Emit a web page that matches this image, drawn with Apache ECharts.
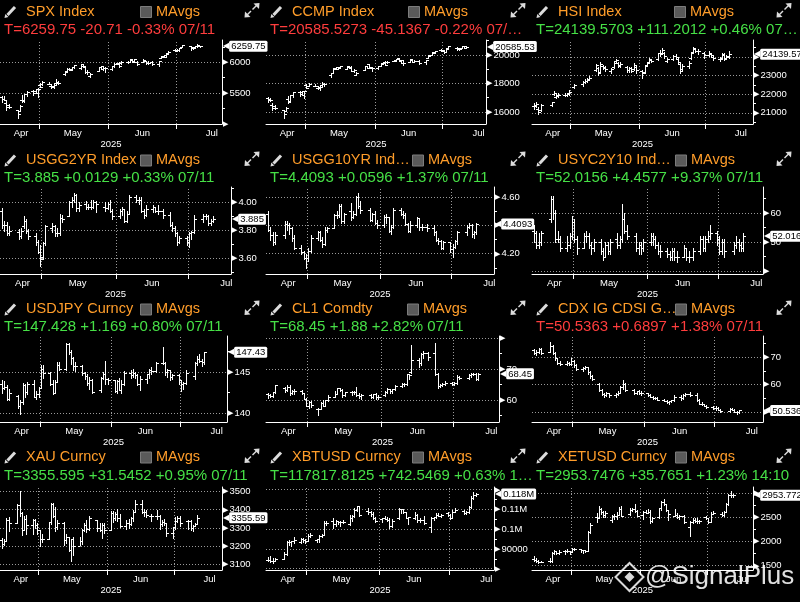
<!DOCTYPE html>
<html><head><meta charset="utf-8">
<script src="https://cdn.jsdelivr.net/npm/echarts/dist/echarts.min.js"></script>
<style>html,body{margin:0;padding:0;background:#000;}#c{width:800px;height:602px;}</style>
</head><body><div id="c"></div>
<script>
// ---------------- DATA ----------------
const usDates = ['2025-04-14','2025-04-15','2025-04-16','2025-04-17','2025-04-21','2025-04-22','2025-04-23','2025-04-24','2025-04-25','2025-04-28','2025-04-29','2025-04-30',
'2025-05-01','2025-05-02','2025-05-05','2025-05-06','2025-05-07','2025-05-08','2025-05-09','2025-05-12','2025-05-13','2025-05-14','2025-05-15','2025-05-16','2025-05-19','2025-05-20','2025-05-21','2025-05-22','2025-05-23','2025-05-27','2025-05-28','2025-05-29','2025-05-30',
'2025-06-02','2025-06-03','2025-06-04','2025-06-05','2025-06-06','2025-06-09','2025-06-10','2025-06-11','2025-06-12','2025-06-13','2025-06-16','2025-06-17','2025-06-18','2025-06-20','2025-06-23','2025-06-24','2025-06-25','2025-06-26','2025-06-27','2025-06-30',
'2025-07-01','2025-07-02','2025-07-03','2025-07-07','2025-07-08','2025-07-09','2025-07-10','2025-07-11'];
const hkDates = ['2025-04-14','2025-04-15','2025-04-16','2025-04-17','2025-04-22','2025-04-23','2025-04-24','2025-04-25','2025-04-28','2025-04-29','2025-04-30',
'2025-05-02','2025-05-06','2025-05-07','2025-05-08','2025-05-09','2025-05-12','2025-05-13','2025-05-14','2025-05-15','2025-05-16','2025-05-19','2025-05-20','2025-05-21','2025-05-22','2025-05-23','2025-05-26','2025-05-27','2025-05-28','2025-05-29','2025-05-30',
'2025-06-02','2025-06-03','2025-06-04','2025-06-05','2025-06-06','2025-06-09','2025-06-10','2025-06-11','2025-06-12','2025-06-13','2025-06-16','2025-06-17','2025-06-18','2025-06-19','2025-06-20','2025-06-23','2025-06-24','2025-06-25','2025-06-26','2025-06-27','2025-06-30',
'2025-07-02','2025-07-03','2025-07-04','2025-07-07','2025-07-08','2025-07-09','2025-07-10','2025-07-11'];
const cryptoDates = usDates.concat(['2025-07-12']);

const monthNames = ['Jan','Feb','Mar','Apr','May','Jun','Jul','Aug','Sep','Oct','Nov','Dec'];
const monthStarts = ['2025-05-01','2025-06-01','2025-07-01'];
const monthLabelDays = ['2025-04-23','2025-05-16','2025-06-16','2025-07-17'];

// OHLC bars [open, high, low, close]
const spx = [[5441,5460,5359,5406],[5412,5450,5386,5396],[5335,5367,5220,5276],[5305,5328,5255,5283],[5232,5233,5101,5158],[5207,5309,5207,5287],[5395,5469,5356,5376],[5381,5484,5361,5484],[5490,5528,5455,5525],[5529,5554,5468,5528],[5508,5571,5506,5561],[5499,5581,5433,5569],
[5626,5659,5597,5604],[5645,5700,5639,5686],[5655,5683,5640,5650],[5608,5641,5590,5607],[5619,5653,5587,5631],[5663,5721,5633,5664],[5679,5691,5644,5660],[5807,5845,5786,5844],[5854,5906,5853,5887],[5893,5906,5868,5892],[5869,5925,5867,5917],[5929,5958,5908,5958],[5902,5968,5895,5964],[5944,5954,5915,5940],[5921,5939,5830,5845],[5842,5878,5817,5842],[5781,5829,5767,5803],[5854,5924,5854,5922],[5925,5930,5886,5889],[5939,5944,5871,5912],[5903,5922,5843,5912],
[5897,5937,5879,5936],[5939,5981,5929,5970],[5978,5991,5967,5971],[5986,5999,5921,5939],[5987,6016,5978,6000],[6004,6021,5994,6006],[6010,6044,6001,6039],[6050,6059,6003,6022],[6010,6045,6003,6045],[6001,6027,5963,5977],[6005,6050,6005,6033],[6013,6023,5974,5983],[5987,6019,5969,5981],[5999,6018,5952,5967],[5970,6028,5943,6025],[6062,6101,6062,6092],[6104,6108,6080,6092],[6112,6146,6106,6141],[6151,6187,6132,6173],[6194,6215,6180,6205],
[6187,6211,6177,6198],[6192,6227,6189,6227],[6240,6284,6240,6279],[6259,6263,6202,6230],[6239,6242,6217,6226],[6240,6269,6237,6263],[6266,6290,6253,6280],[6256,6270,6243,6260]];

const ccmp = [[17010,17080,16700,16832],[16900,16980,16760,16823],[16500,16600,16100,16307],[16400,16500,16200,16286],[16100,16130,15600,15871],[16050,16350,16030,16300],[16900,17140,16620,16708],[16740,17170,16700,17166],[17170,17390,17060,17383],[17400,17470,17130,17366],[17280,17490,17260,17461],[17180,17460,16990,17446],
[17860,17960,17680,17711],[17850,18030,17820,17978],[17850,17930,17790,17844],[17670,17790,17610,17690],[17720,17820,17550,17738],[17900,18110,17800,17928],[17980,18020,17840,17929],[18570,18710,18450,18708],[18760,19060,18750,19010],[19050,19180,19010,19146],[19020,19140,18990,19112],[19130,19220,19060,19211],[19020,19230,18990,19215],[19150,19200,19060,19143],[19090,19190,18850,18872],[18860,19040,18830,18926],[18620,18810,18600,18737],[18950,19200,18940,19199],[19230,19240,19070,19101],[19340,19360,19050,19175],[19080,19150,18870,19114],
[19050,19250,19000,19243],[19250,19420,19210,19399],[19430,19500,19410,19460],[19480,19550,19260,19298],[19490,19600,19440,19530],[19570,19650,19540,19591],[19620,19740,19560,19715],[19760,19800,19580,19615],[19560,19670,19530,19662],[19430,19570,19310,19407],[19530,19740,19520,19701],[19620,19650,19480,19521],[19520,19660,19480,19546],[19600,19630,19380,19447],[19470,19640,19360,19631],[19800,19950,19790,19913],[19990,20030,19900,19973],[20030,20190,20010,20167],[20240,20290,20150,20273],[20330,20400,20260,20369],
[20310,20340,20130,20202],[20200,20400,20190,20394],[20470,20640,20460,20601],[20520,20540,20330,20412],[20460,20490,20380,20419],[20510,20660,20490,20611],[20610,20660,20540,20631],[20520,20620,20500,20586]];

const hsi = [[21370,21550,21200,21417],[21380,21560,21300,21466],[21200,21300,20950,21057],[21130,21450,21100,21395],[21400,21600,21350,21562],[22000,22180,21950,22073],[21850,22000,21800,21909],[21950,22050,21850,21980],[21950,22080,21880,21972],[21950,22080,21900,22008],[22050,22200,21950,22119],
[22400,22550,22350,22504],[22550,22700,22450,22662],[22650,22800,22600,22691],[22700,22880,22650,22775],[22800,22950,22750,22868],[23300,23600,23250,23549],[23400,23450,23050,23108],[23200,23700,23150,23640],[23500,23580,23350,23453],[23400,23500,23250,23345],[23250,23400,23150,23332],[23450,23750,23400,23681],[23750,23900,23650,23827],[23650,23700,23450,23544],[23500,23700,23450,23601],[23450,23500,23200,23282],[23300,23450,23200,23381],[23400,23450,23200,23258],[23350,23650,23300,23573],[23450,23500,23150,23290],
[23250,23300,22850,23158],[23200,23550,23150,23512],[23550,23700,23500,23655],[23700,23950,23650,23907],[23850,23900,23700,23792],[23900,24200,23850,24181],[24200,24350,24050,24162],[24200,24450,24150,24367],[24200,24250,23950,24036],[23800,23950,23700,23892],[23900,24100,23850,24061],[24050,24150,23900,23980],[23900,23950,23650,23711],[23600,23650,23150,23238],[23350,23600,23300,23530],[23500,23750,23400,23689],[23950,24250,23900,24177],[24250,24500,24200,24474],[24400,24450,24250,24325],[24300,24400,24150,24284],[24200,24250,23950,24072],
[24100,24300,24050,24221],[24150,24200,24000,24070],[24000,24050,23850,23916],[23900,24000,23800,23887],[23950,24200,23900,24148],[24100,24200,23850,23892],[23950,24100,23900,24028],[24000,24300,23950,24140]];

const us2y = [[3.94,3.96,3.82,3.84],[3.84,3.87,3.80,3.84],[3.84,3.86,3.77,3.78],[3.78,3.83,3.77,3.80],[3.79,3.81,3.74,3.76],[3.76,3.82,3.75,3.80],[3.83,3.90,3.82,3.87],[3.87,3.88,3.78,3.80],[3.80,3.81,3.74,3.76],[3.76,3.78,3.70,3.72],[3.72,3.73,3.64,3.65],[3.65,3.70,3.55,3.60],
[3.61,3.72,3.60,3.71],[3.71,3.84,3.70,3.83],[3.82,3.85,3.79,3.83],[3.83,3.84,3.76,3.78],[3.78,3.82,3.76,3.78],[3.78,3.92,3.77,3.89],[3.89,3.91,3.86,3.88],[3.90,4.01,3.90,4.00],[4.00,4.04,3.97,4.02],[4.02,4.07,4.00,4.05],[4.05,4.06,3.94,3.96],[3.96,4.00,3.94,3.98],[3.99,4.01,3.95,3.97],[3.97,3.99,3.95,3.97],[3.97,4.02,3.95,3.97],[3.97,4.02,3.96,4.00],[4.00,4.01,3.93,3.99],[3.97,4.00,3.94,3.96],[3.96,4.00,3.95,3.99],[3.99,4.02,3.93,3.94],[3.94,3.95,3.88,3.90],
[3.90,3.95,3.89,3.94],[3.94,3.97,3.91,3.95],[3.95,3.95,3.86,3.87],[3.87,3.94,3.86,3.92],[3.92,4.05,3.92,4.04],[4.04,4.05,4.00,4.02],[4.02,4.04,3.99,4.02],[4.02,4.04,3.93,3.94],[3.94,3.95,3.89,3.91],[3.91,3.98,3.90,3.95],[3.95,3.98,3.93,3.97],[3.97,3.97,3.93,3.94],[3.94,3.98,3.92,3.94],[3.94,3.95,3.89,3.91],[3.91,3.93,3.83,3.84],[3.84,3.86,3.80,3.82],[3.82,3.83,3.76,3.78],[3.78,3.79,3.70,3.72],[3.72,3.76,3.71,3.75],[3.75,3.76,3.70,3.72],
[3.72,3.79,3.68,3.78],[3.78,3.80,3.74,3.79],[3.79,3.91,3.78,3.88],[3.88,3.92,3.86,3.90],[3.90,3.92,3.88,3.90],[3.90,3.91,3.84,3.85],[3.85,3.88,3.84,3.87],[3.87,3.90,3.86,3.885]];

const us10y = [[4.48,4.50,4.36,4.37],[4.37,4.39,4.30,4.33],[4.33,4.35,4.26,4.28],[4.28,4.35,4.27,4.33],[4.33,4.43,4.31,4.41],[4.41,4.43,4.37,4.40],[4.40,4.42,4.34,4.38],[4.38,4.39,4.29,4.31],[4.31,4.33,4.23,4.24],[4.24,4.26,4.20,4.21],[4.21,4.22,4.16,4.17],[4.17,4.20,4.10,4.17],
[4.17,4.24,4.15,4.22],[4.22,4.33,4.21,4.31],[4.31,4.36,4.30,4.35],[4.35,4.36,4.29,4.30],[4.30,4.32,4.25,4.27],[4.27,4.39,4.26,4.37],[4.37,4.39,4.35,4.38],[4.38,4.48,4.38,4.47],[4.47,4.50,4.45,4.47],[4.47,4.55,4.46,4.54],[4.54,4.55,4.42,4.43],[4.43,4.49,4.42,4.48],[4.50,4.56,4.44,4.46],[4.46,4.50,4.45,4.48],[4.48,4.61,4.47,4.60],[4.60,4.63,4.52,4.54],[4.54,4.57,4.49,4.51],[4.51,4.52,4.43,4.44],[4.44,4.49,4.43,4.48],[4.48,4.50,4.41,4.42],[4.42,4.44,4.38,4.40],
[4.40,4.47,4.39,4.46],[4.46,4.48,4.42,4.46],[4.46,4.46,4.35,4.36],[4.36,4.40,4.34,4.39],[4.39,4.52,4.38,4.51],[4.51,4.52,4.47,4.48],[4.48,4.50,4.45,4.47],[4.47,4.49,4.40,4.41],[4.41,4.42,4.35,4.36],[4.36,4.43,4.35,4.40],[4.40,4.46,4.39,4.45],[4.45,4.45,4.37,4.39],[4.39,4.41,4.37,4.39],[4.39,4.41,4.36,4.38],[4.38,4.40,4.33,4.35],[4.35,4.36,4.29,4.30],[4.30,4.31,4.27,4.29],[4.29,4.30,4.23,4.24],[4.24,4.29,4.23,4.28],[4.28,4.28,4.21,4.23],
[4.23,4.27,4.18,4.25],[4.25,4.30,4.24,4.29],[4.29,4.36,4.27,4.35],[4.35,4.40,4.33,4.39],[4.39,4.42,4.38,4.40],[4.40,4.41,4.32,4.34],[4.34,4.36,4.31,4.35],[4.35,4.42,4.34,4.4093]];

const us2s10s = [[54,56,50,53],[53,54,48,49],[49,53,48,50],[50,54,49,53],[58,66,57,65],[65,66,58,60],[60,61,50,51],[51,54,50,51],[51,52,47,48],[48,52,47,49],[49,53,48,52],[52,59,51,57],
[57,58,50,51],[51,52,46,48],[48,53,48,52],[52,54,50,52],[52,53,48,49],[49,50,46,48],[48,51,47,50],[50,51,46,47],[47,48,44,45],[45,50,45,49],[49,50,46,47],[47,51,46,50],[51,53,48,49],[49,52,48,51],[51,63,50,58],[58,60,53,54],[54,56,51,52],[52,53,47,48],[48,50,46,49],[49,50,46,48],[48,51,47,50],
[50,53,49,52],[52,53,49,51],[51,52,48,49],[49,50,46,47],[47,49,45,47],[47,48,45,46],[46,47,44,45],[45,48,44,47],[47,48,44,45],[45,47,43,45],[45,49,45,48],[48,48,44,45],[45,47,43,45],[45,48,44,47],[47,52,46,51],[51,52,47,48],[48,52,47,51],[51,54,50,52],[52,56,51,53],[53,54,49,51],
[51,52,46,47],[47,51,46,50],[50,51,45,47],[47,50,46,49],[49,52,48,50],[50,51,47,49],[49,50,47,48],[48,53,47,52.02]];

const usdjpy = [[143.5,144.0,142.5,143.1],[143.1,143.9,142.9,143.2],[143.2,143.4,141.6,141.7],[141.7,142.9,141.6,142.4],[142.1,142.2,140.6,140.8],[140.8,141.6,139.9,141.3],[141.3,143.7,141.1,143.4],[143.4,143.6,142.0,142.6],[142.6,143.8,142.3,143.6],[143.6,144.0,141.9,142.0],[142.0,142.7,141.7,142.3],[142.3,143.2,141.9,143.1],
[143.1,145.9,143.0,145.4],[145.4,145.9,144.3,144.9],[144.9,145.0,143.4,143.6],[143.6,144.0,142.3,142.5],[142.5,144.0,142.4,143.8],[143.8,146.2,143.8,145.9],[145.9,146.2,145.2,145.4],[145.4,148.6,145.3,148.4],[148.4,148.6,147.2,147.5],[147.5,147.7,146.0,146.7],[146.7,146.8,145.2,145.7],[145.7,146.2,145.1,145.7],[145.7,145.8,144.6,144.9],[144.9,145.0,144.2,144.5],[144.5,144.7,143.4,143.7],[143.7,144.4,142.9,144.0],[144.0,144.1,142.4,142.6],[142.8,144.4,142.6,144.3],[144.3,145.0,144.1,144.8],[144.8,146.3,143.6,144.1],[144.1,144.3,143.5,144.0],
[144.0,144.0,142.6,142.7],[142.7,144.0,142.4,143.9],[143.9,144.3,142.8,142.8],[142.8,144.0,142.4,143.5],[143.5,145.1,143.4,144.9],[144.9,145.2,144.3,144.6],[144.6,145.4,144.4,144.9],[144.9,145.0,144.3,144.6],[144.6,144.8,143.4,143.5],[143.5,144.5,142.8,144.1],[144.1,144.8,143.7,144.7],[144.7,145.4,144.3,145.3],[145.3,145.6,144.7,145.1],[145.1,146.2,145.0,146.1],[146.1,148.0,146.0,146.1],[146.1,146.2,144.6,145.0],[145.0,145.4,144.4,145.2],[145.2,145.3,144.0,144.4],[144.4,144.8,144.2,144.6],[144.6,144.8,143.6,144.0],
[144.0,144.0,142.7,143.5],[143.5,143.8,142.9,143.7],[143.7,145.2,143.5,144.9],[144.5,146.2,144.2,146.1],[146.1,146.9,145.8,146.6],[146.6,147.2,146.2,146.3],[146.3,146.6,145.7,146.2],[146.2,147.5,146.0,147.43]];

const cl1 = [[61.8,62.2,60.6,61.5],[61.5,62.0,60.9,61.3],[61.3,62.7,60.8,62.5],[62.5,64.9,62.4,64.7],[64.0,64.2,62.5,63.1],[63.1,64.9,62.9,64.3],[64.3,64.9,61.7,62.3],[62.3,63.2,61.8,62.8],[62.8,63.4,61.8,63.0],[63.0,63.3,61.9,62.1],[62.1,62.3,60.2,60.4],[60.4,60.6,57.9,58.2],
[58.2,59.6,57.5,59.2],[59.2,59.8,57.8,58.3],[57.1,57.5,55.3,57.1],[57.1,59.4,57.0,59.1],[59.1,60.0,57.9,58.1],[58.1,60.1,58.0,59.9],[59.9,61.5,59.8,61.0],[61.0,62.8,61.0,62.0],[62.0,63.9,61.8,63.7],[63.7,64.0,62.8,63.2],[63.2,63.4,60.8,61.6],[61.6,62.6,61.3,62.5],[62.5,62.9,61.5,62.7],[62.7,63.0,61.9,62.6],[62.6,64.2,61.3,61.6],[61.6,62.2,60.6,61.2],[61.2,61.8,60.3,61.5],[61.5,62.0,60.6,60.9],[60.9,62.0,60.5,61.8],[61.8,62.3,60.3,60.9],[60.9,61.5,60.3,60.8],
[61.5,63.0,61.3,62.5],[62.5,63.9,62.2,63.4],[63.4,63.5,62.3,62.9],[62.9,63.5,62.4,63.4],[63.4,64.8,63.3,64.6],[64.6,65.4,64.1,65.3],[65.3,65.5,64.5,65.0],[65.0,68.4,64.8,68.2],[68.2,68.3,66.8,68.0],[69.0,77.6,68.7,73.0],[73.0,73.5,70.5,71.8],[71.8,75.0,71.2,74.8],[74.8,75.7,73.6,75.1],[75.1,75.3,72.9,73.8],[75.0,78.4,68.0,68.5],[68.5,68.6,64.0,64.4],[64.4,65.2,64.1,64.9],[64.9,65.6,64.4,65.2],[65.2,66.0,64.8,65.5],[65.5,65.7,64.7,65.1],
[65.1,65.9,64.9,65.5],[65.5,67.9,65.3,67.5],[67.5,67.8,66.6,67.0],[67.0,68.2,66.9,67.9],[67.9,68.6,67.4,68.3],[68.3,68.8,68.0,68.4],[68.4,68.6,66.3,66.6],[66.6,68.6,66.4,68.45]];

const cdxig = [[72.5,73.0,71.0,71.5],[71.5,72.5,70.8,72.0],[72.0,73.5,71.5,73.0],[73.0,73.2,71.0,71.5],[72.0,75.5,71.8,74.0],[74.0,74.5,71.0,71.5],[71.5,71.8,69.0,69.5],[69.5,69.8,67.5,68.0],[68.0,68.5,67.0,67.5],[67.5,68.5,67.0,68.0],[68.0,68.2,67.0,67.5],[67.5,69.5,67.2,68.5],
[68.5,69.0,66.5,67.0],[67.0,67.5,65.2,65.5],[65.5,66.5,65.0,66.0],[66.0,66.8,65.5,66.2],[66.2,66.5,64.0,64.5],[64.5,64.8,62.5,63.0],[63.0,63.5,61.5,62.0],[60.0,60.5,57.5,58.0],[58.0,58.5,56.0,56.5],[56.5,57.0,55.5,56.0],[56.0,57.2,55.8,56.8],[56.8,57.0,55.5,56.0],[56.0,56.8,55.6,56.5],[56.5,57.5,56.2,57.0],[57.0,59.5,56.8,59.0],[59.0,61.5,58.5,60.0],[60.0,60.5,57.5,58.0],[58.0,58.2,56.5,57.0],[57.0,57.8,56.5,57.5],[57.5,58.0,56.6,57.0],[57.0,57.5,56.3,56.8],
[56.8,57.0,55.8,56.2],[56.2,56.5,55.3,55.5],[55.5,55.8,54.8,55.0],[55.0,55.6,54.6,55.2],[55.2,55.4,54.2,54.5],[54.5,54.8,53.8,54.0],[54.0,54.2,53.2,53.5],[53.5,54.0,53.0,53.8],[53.8,54.5,53.5,54.2],[54.2,56.0,54.0,55.5],[55.5,56.0,54.5,55.0],[55.0,56.5,54.8,56.2],[56.2,57.0,55.8,56.5],[56.5,57.2,55.8,56.0],[56.0,57.0,54.0,54.5],[54.5,54.6,52.8,53.0],[53.0,53.5,52.5,52.8],[52.8,53.0,52.0,52.2],[52.2,52.5,51.5,51.8],[51.8,52.0,51.0,51.3],
[51.3,52.0,50.8,51.5],[51.5,51.8,50.6,50.8],[50.8,51.0,50.0,50.2],[50.2,51.4,50.0,51.2],[51.2,51.5,50.5,50.8],[50.8,51.0,49.8,50.0],[50.0,50.2,49.4,49.8],[49.8,50.8,49.6,50.54]];

const xau = [[3237,3245,3193,3211],[3211,3240,3205,3230],[3230,3357,3228,3343],[3343,3358,3284,3327],[3330,3430,3325,3425],[3425,3500,3367,3381],[3381,3386,3260,3288],[3288,3367,3287,3349],[3349,3371,3265,3319],[3319,3352,3268,3343],[3343,3348,3300,3317],[3317,3328,3268,3288],
[3288,3289,3202,3239],[3239,3269,3223,3241],[3241,3335,3240,3334],[3334,3438,3320,3431],[3431,3435,3362,3366],[3366,3414,3284,3306],[3306,3346,3297,3325],[3325,3332,3208,3236],[3236,3266,3217,3249],[3249,3252,3175,3180],[3180,3241,3121,3240],[3240,3252,3155,3204],[3204,3250,3205,3230],[3230,3295,3213,3290],[3290,3325,3283,3315],[3315,3345,3278,3294],[3294,3366,3287,3357],[3342,3344,3286,3301],[3301,3326,3285,3288],[3288,3330,3245,3318],[3318,3326,3271,3289],
[3289,3392,3288,3381],[3381,3393,3333,3353],[3353,3385,3343,3374],[3374,3403,3339,3353],[3353,3375,3307,3310],[3310,3344,3294,3326],[3326,3350,3302,3322],[3322,3360,3316,3355],[3355,3398,3340,3387],[3387,3451,3385,3433],[3433,3452,3380,3385],[3385,3403,3366,3389],[3389,3396,3362,3370],[3368,3375,3340,3368],[3368,3398,3348,3368],[3368,3370,3295,3323],[3323,3345,3312,3332],[3332,3350,3317,3327],[3327,3329,3255,3274],[3274,3308,3247,3303],
[3303,3358,3296,3338],[3338,3365,3333,3357],[3357,3365,3311,3326],[3337,3342,3296,3337],[3337,3345,3287,3302],[3302,3318,3283,3313],[3313,3330,3310,3324],[3324,3369,3322,3355.6]];

const xbt = [[84500,85800,83700,84600],[84600,86400,83600,83700],[83700,85500,83100,84000],[84000,85400,83800,84900],[85100,88500,85000,87500],[87500,93800,87100,93400],[93400,94700,91900,93700],[93700,94000,91700,93900],[93900,95800,92900,94700],[93700,95600,92900,95000],[95000,95500,93400,94300],[94300,95200,92900,94200],
[94200,97400,94100,96500],[96500,97900,96300,96900],[94300,95200,93500,94800],[94800,96900,93400,96800],[96800,97700,95800,97000],[97000,103900,96900,103200],[103200,104300,102300,102900],[104000,105800,100800,102800],[102800,104900,101500,104100],[104100,104400,102700,103500],[103500,104200,101400,103700],[103700,104500,103100,103500],[102600,107000,102000,105600],[105600,107300,104200,106800],[106800,110700,106100,109600],[109600,111900,109300,111700],[111700,111800,106800,107300],[109400,110700,107600,108900],[108900,109300,106700,107800],[107800,108900,105400,105600],[105600,106300,103700,103900],
[105200,105900,103700,105800],[105800,106800,105000,105400],[105400,106000,104200,104700],[104700,105900,100400,101500],[101500,105400,101100,104300],[105700,110500,105400,110200],[110200,110400,108300,110300],[110300,110400,108100,108700],[108700,108800,105700,105700],[105700,106200,102700,106100],[105500,108900,105400,107000],[107000,107800,103400,104600],[104600,105600,103600,104900],[104600,106500,102400,103300],[100900,106000,98500,105500],[105500,106300,104700,106000],[106000,108100,105800,107300],[107300,108000,106600,106900],[106900,107700,106100,107100],[108400,108800,106800,107100],
[107100,107500,105300,105700],[105700,109600,105600,108900],[108900,110500,108600,109600],[109200,109700,107500,108200],[108200,109200,107500,108900],[108900,111900,108400,111300],[111300,116800,110600,115900],[115900,118800,115300,117500],[117500,118200,116900,117818]];

const xet = [[1645,1690,1600,1622],[1622,1660,1580,1588],[1588,1615,1560,1577],[1577,1600,1570,1584],[1600,1660,1575,1587],[1587,1780,1580,1756],[1756,1830,1750,1795],[1795,1800,1740,1770],[1770,1815,1750,1786],[1799,1830,1745,1799],[1799,1840,1785,1798],[1798,1810,1740,1793],
[1793,1875,1790,1839],[1839,1870,1830,1841],[1840,1845,1790,1816],[1816,1830,1760,1814],[1814,1830,1780,1810],[1810,2210,1800,2206],[2206,2380,2170,2345],[2500,2580,2400,2495],[2495,2730,2480,2680],[2680,2700,2560,2609],[2609,2620,2500,2546],[2546,2640,2500,2599],[2440,2550,2400,2524],[2524,2570,2470,2525],[2525,2600,2460,2554],[2554,2720,2540,2663],[2663,2740,2520,2526],[2570,2700,2540,2661],[2661,2690,2620,2680],[2680,2780,2610,2632],[2632,2650,2520,2531],
[2540,2620,2470,2606],[2606,2660,2580,2589],[2589,2670,2580,2607],[2607,2650,2390,2419],[2419,2510,2400,2486],[2510,2700,2480,2683],[2683,2830,2660,2816],[2816,2880,2760,2770],[2770,2780,2620,2644],[2644,2660,2450,2578],[2530,2680,2520,2549],[2549,2580,2480,2509],[2509,2540,2460,2521],[2520,2550,2390,2408],[2290,2420,2120,2405],[2405,2480,2390,2449],[2449,2480,2400,2419],[2419,2480,2390,2418],[2418,2440,2390,2424],[2500,2520,2470,2486],
[2486,2490,2390,2404],[2404,2600,2400,2573],[2573,2640,2560,2589],[2570,2600,2520,2541],[2541,2630,2520,2612],[2612,2790,2600,2771],[2771,2990,2750,2955],[2955,3050,2920,2959],[2959,2975,2910,2953.77]];

// y-axis tick labels per panel
const spxTicks = [5000,5500,6000], ccmpTicks = [16000,18000,20000], hsiTicks = [21000,22000,23000,24000];
const us2yTicks = [3.6,3.8,4.0], us10yTicks = [4.2,4.4,4.6], us2s10sTicks = [40,50,60];
const usdjpyTicks = [140,145], cl1Ticks = [60,70,80], cdxTicks = [50,60,70];
const xauTicks = [3100,3200,3300,3400,3500], xbtTicks = [80000,90000,100000,110000,120000], xetTicks = [1500,2000,2500,3000];

// ---------------- LAYOUT ----------------
const FONT = '"Liberation Sans", Arial, sans-serif';
const ORANGE = '#ff9d2a', GREEN = '#46e046', RED = '#ff3d3d';
const COLX = [0, 266, 532];
const TITLE_Y = [11.5, 160, 309, 457];
const QUOTE_Y = [29.5, 178, 327, 475.5];
const GRID_TOP = [40, 187, 336, 487];
const GRID_H = [84, 87, 86, 83];
const fmtInt = v => String(v), fmt2 = v => v.toFixed(2);
const fmtM = v => v >= 100000 ? (v / 1e6) + 'M' : String(v);

const panels = [
 {title:'SPX Index', quote:'T=6259.75 -20.71 -0.33% 07/11', up:false, dates:usDates, ohlc:spx, min:5000, max:6360, ticks:spxTicks, bare:[5000], minor:[5250,5750,6250], fmt:fmtInt, last:6259.75, box:'6259.75', w:222, xEnd:98.5, sq:140},
 {title:'CCMP Index', quote:'T=20585.5273 -45.1367 -0.22% 07/\u2026', up:false, dates:usDates, ohlc:ccmp, min:15150, max:21050, ticks:ccmpTicks, bare:[], minor:[17000,19000,21000], fmt:fmtInt, last:20585.53, box:'20585.53', w:220, xEnd:97.3, sq:142},
 {title:'HSI Index', quote:'T=24139.5703 +111.2012 +0.46% 07\u2026', up:true, dates:hkDates, ohlc:hsi, min:20400, max:24900, ticks:hsiTicks, bare:[], minor:[20500,21500,22500,23500,24500], fmt:fmtInt, last:24139.57, box:'24139.57', w:221, xEnd:99.5, sq:142},
 {title:'USGG2YR Index', quote:'T=3.885 +0.0129 +0.33% 07/11', up:true, dates:usDates, ohlc:us2y, min:3.49, max:4.11, ticks:us2yTicks, bare:[], minor:[3.5,3.7,3.9,4.1], fmt:fmt2, last:3.885, box:'3.885', w:231, xEnd:96, sq:140},
 {title:'USGG10YR Ind\u2026', quote:'T=4.4093 +0.0596 +1.37% 07/11', up:true, dates:usDates, ohlc:us10y, min:4.057, max:4.671, ticks:us10yTicks, bare:[], minor:[4.1,4.3,4.5], fmt:fmt2, last:4.4093, box:'4.4093', w:228, xEnd:96, sq:146},
 {title:'USYC2Y10 Ind\u2026', quote:'T=52.0156 +4.4577 +9.37% 07/11', up:true, dates:usDates, ohlc:us2s10s, min:39, max:69, ticks:us2s10sTicks, bare:[40], minor:[45,55,65], fmt:fmtInt, last:52.016, box:'52.016', w:231, xEnd:96.8, sq:143},
 {title:'USDJPY Curncy', quote:'T=147.428 +1.169 +0.80% 07/11', up:true, dates:usDates, ohlc:usdjpy, min:138.9, max:149.4, ticks:usdjpyTicks, bare:[], minor:[142.5,147.5], fmt:fmtInt, last:147.43, box:'147.43', w:227, xEnd:98.5, sq:140},
 {title:'CL1 Comdty', quote:'T=68.45 +1.88 +2.82% 07/11', up:true, dates:usDates, ohlc:cl1, min:52.9, max:80.6, ticks:cl1Ticks, bare:[80], minor:[55,65,75], fmt:fmtInt, last:68.45, box:'68.45', w:233, xEnd:97.2, sq:141},
 {title:'CDX IG CDSI G\u2026', quote:'T=50.5363 +0.6897 +1.38% 07/11', up:false, dates:usDates, ohlc:cdxig, min:46.3, max:77.7, ticks:cdxTicks, bare:[], minor:[55,65,75], fmt:fmtInt, last:50.536, box:'50.536', w:231, xEnd:98.8, sq:143},
 {title:'XAU Curncy', quote:'T=3355.595 +31.5452 +0.95% 07/11', up:true, dates:usDates, ohlc:xau, min:3071, max:3524, ticks:xauTicks, bare:[], minor:[], fmt:fmtInt, last:3355.59, box:'3355.59', w:222, xEnd:99.6, sq:140},
 {title:'XBTUSD Curncy', quote:'T=117817.8125 +742.5469 +0.63% 1\u2026', up:true, dates:cryptoDates, ohlc:xbt, min:79340, max:121370, ticks:xbtTicks, bare:[80000,120000], minor:[85000,95000,105000,115000], fmt:fmtM, last:117817.8, box:'0.118M', w:228, xEnd:97.3, sq:146},
 {title:'XETUSD Curncy', quote:'T=2953.7476 +35.7651 +1.23% 14:10', up:true, dates:cryptoDates, ohlc:xet, min:1411, max:3126, ticks:xetTicks, bare:[], minor:[1750,2250,2750], fmt:fmtInt, last:2953.77, box:'2953.772', w:221, xEnd:98.5, sq:143}
];

function ts(s) { const p = s.split('-').map(Number); return new Date(p[0], p[1] - 1, p[2]).getTime(); }
const HOUR = 3600000, DAY = 24 * HOUR;
const X_MIN = ts('2025-04-13') + 15 * HOUR;
const monthStartTs = monthStarts.map(ts);
const monthLabelTs = monthLabelDays.map(ts);

function renderOHLC(params, api) {
  const t = api.value(0);
  const pO = api.coord([t, api.value(1)]), pH = api.coord([t, api.value(2)]);
  const pL = api.coord([t, api.value(3)]), pC = api.coord([t, api.value(4)]);
  const x = Math.round(pH[0]) + 0.5, w = 2;
  const yo = Math.round(pO[1]) + 0.5, yc = Math.round(pC[1]) + 0.5;
  const st = {stroke: '#ffffff', lineWidth: 1};
  return {type: 'group', children: [
    {type: 'line', shape: {x1: x, y1: Math.round(pH[1]), x2: x, y2: Math.round(pL[1]) + 1}, style: st},
    {type: 'line', shape: {x1: x - w - 0.5, y1: yo, x2: x, y2: yo}, style: st},
    {type: 'line', shape: {x1: x, y1: yc, x2: x + w + 0.5, y2: yc}, style: st}
  ]};
}

const option = {backgroundColor: '#000', animation: false, grid: [], xAxis: [], yAxis: [], series: [], graphic: {elements: []}};
const G = option.graphic.elements;
const DOT = {type: [1, 2], color: '#9a9a9a', width: 1};

panels.forEach((p, i) => {
  const col = i % 3, row = Math.floor(i / 3);
  const x0 = COLX[col];
  option.grid.push({left: x0, top: GRID_TOP[row], width: p.w, height: GRID_H[row], containLabel: false, outerBoundsMode: 'none'});
  option.xAxis.push({
    type: 'value', gridIndex: i, min: X_MIN, max: ts('2025-04-14') + p.xEnd * DAY,
    axisLine: {show: true, onZero: false, lineStyle: {color: '#fff', width: 1}},
    axisTick: {show: true, customValues: monthStartTs, length: 5, lineStyle: {color: '#fff'}},
    axisLabel: {show: true, customValues: monthLabelTs, margin: 4.5, color: '#fff', fontSize: 9.5, fontFamily: FONT,
      formatter: v => monthNames[new Date(v).getMonth()]},
    splitLine: {show: false}, minorTick: {show: false}, minorSplitLine: {show: false},
    name: '2025', nameLocation: 'middle', nameGap: 15.5, nameTextStyle: {color: '#fff', fontSize: 9.5, fontFamily: FONT}
  });
  option.yAxis.push({
    type: 'value', gridIndex: i, position: 'right', min: p.min, max: p.max,
    axisLine: {show: true, onZero: false, lineStyle: {color: '#fff', width: 1}},
    axisTick: {show: true, customValues: p.minor, length: 3, lineStyle: {color: '#fff'}},
    axisLabel: {show: true, customValues: p.ticks, margin: 1,
      formatter: v => p.bare.indexOf(v) >= 0 ? '{t|\u25B6}' : '{t|\u25B6}{v|' + p.fmt(v) + '}',
      rich: {t: {fontSize: 7, color: '#fff', fontFamily: '"DejaVu Sans"', padding: [0, 1, 0, 0]},
             v: {fontSize: 9.5, color: '#fff', fontFamily: FONT}}},
    splitLine: {show: false}
  });
  option.series.push({
    type: 'custom', xAxisIndex: i, yAxisIndex: i, z: 6, silent: true, clip: false,
    renderItem: renderOHLC, encode: {x: 0, y: [1, 2, 3, 4]},
    data: p.ohlc.map((b, j) => [ts(p.dates[j]) + 12 * HOUR, b[0], b[1], b[2], b[3]])
  });
  const ml = [];
  p.ticks.filter(v => v > p.min && v < p.max).forEach(v => ml.push({yAxis: v, lineStyle: DOT}));
  monthStartTs.forEach(t => ml.push({xAxis: t, lineStyle: DOT}));
  ml.push({yAxis: p.last, lineStyle: {color: 'rgba(0,0,0,0)', width: 0},
    label: {show: true, position: 'end', distance: 1, formatter: '{a|\u25C0}{b|' + p.box + '}',
      rich: {a: {color: '#fff', fontSize: 8, fontFamily: '"DejaVu Sans"'},
             b: {backgroundColor: '#fff', color: '#000', fontSize: 9.5, fontFamily: FONT, padding: [1, 2, 0, 2], borderRadius: 1.5}}}});
  option.series.push({type: 'line', xAxisIndex: i, yAxisIndex: i, data: [], silent: true,
    markLine: {silent: true, symbol: ['none', 'none'], animation: false, label: {show: false}, data: ml}});

  // header graphics
  const ty = TITLE_Y[row];
  const qy = QUOTE_Y[row];
  G.push({type: 'line', z: 100, shape: {x1: x0 + 7.5, y1: ty + 3.5, x2: x0 + 15, y2: ty - 4.5}, style: {stroke: '#dcdcdc', lineWidth: 3}});
  G.push({type: 'polygon', z: 100, shape: {points: [[x0 + 4.5, ty + 6.5], [x0 + 5.3, ty + 2.5], [x0 + 8.5, ty + 5.5]]}, style: {fill: '#dcdcdc'}});
  G.push({type: 'text', z: 100, x: x0 + 26, y: ty, style: {text: p.title, fill: ORANGE, font: '14.5px ' + FONT, verticalAlign: 'middle'}});
  G.push({type: 'rect', z: 100, shape: {x: x0 + p.sq + 0.5, y: ty - 5, width: 11, height: 11}, style: {fill: '#5a5a5a', stroke: '#7c7c7c', lineWidth: 1}});
  G.push({type: 'text', z: 100, x: x0 + p.sq + 16, y: ty, style: {text: 'MAvgs', fill: ORANGE, font: '14.5px ' + FONT, verticalAlign: 'middle'}});
  G.push({type: 'line', z: 100, shape: {x1: x0 + 252.5, y1: ty - 2, x2: x0 + 257, y2: ty - 6.5}, style: {stroke: '#dcdcdc', lineWidth: 1.5}});
  G.push({type: 'polygon', z: 100, shape: {points: [[x0 + 259.5, ty - 8.5], [x0 + 253.5, ty - 8], [x0 + 259, ty - 2.5]]}, style: {fill: '#dcdcdc'}});
  G.push({type: 'line', z: 100, shape: {x1: x0 + 246.5, y1: ty + 4, x2: x0 + 251, y2: ty - 0.5}, style: {stroke: '#dcdcdc', lineWidth: 1.5}});
  G.push({type: 'polygon', z: 100, shape: {points: [[x0 + 244.5, ty + 6], [x0 + 245, ty + 0], [x0 + 250.5, ty + 5.5]]}, style: {fill: '#dcdcdc'}});
  G.push({type: 'text', z: 100, x: x0 + 4, y: qy, style: {text: p.quote, fill: p.up ? GREEN : RED, font: '15px ' + FONT, verticalAlign: 'middle'}});
});

// watermark
G.push({type: 'polygon', z: 200, shape: {points: [[629.5, 563], [643.5, 577], [629.5, 591], [615.5, 577]]}, style: {fill: 'none', stroke: 'rgba(255,255,255,0.85)', lineWidth: 2}});
G.push({type: 'polygon', z: 200, shape: {points: [[629.5, 572], [634.5, 577], [629.5, 582], [624.5, 577]]}, style: {fill: 'rgba(255,255,255,0.85)'}});
G.push({type: 'text', z: 200, x: 645, y: 577, style: {text: '@SignalPlus', fill: 'rgba(255,255,255,0.88)', font: '26px ' + FONT, verticalAlign: 'middle'}});

const chart = echarts.init(document.getElementById('c'), null, {renderer: 'canvas'});
chart.setOption(option);
</script></body></html>
